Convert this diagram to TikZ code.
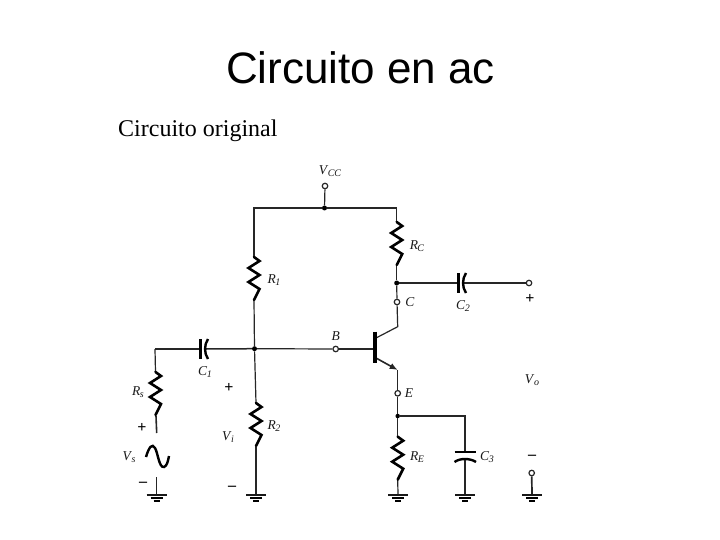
\documentclass[tikz,border=0pt]{standalone}
\usepackage{fontspec}
\setmainfont{Liberation Serif}
\newfontfamily\titlefont{Liberation Sans}
\usetikzlibrary{arrows.meta}
\newcommand{\lab}[2]{\textit{#1}\kern-0.5pt\raisebox{-2.5pt}{\fontsize{10}{10}\selectfont\textit{#2}}}
\tikzset{
  wire/.style={line width=1.2pt,black!85},
  term/.style={circle,draw=black!85,fill=white,line width=1.2pt,inner sep=0pt,minimum size=5.5pt},
  dotj/.style={circle,fill=black,inner sep=0pt,minimum size=5pt},
  lbl/.style={inner sep=0pt,font=\fontsize{13.5}{14}\selectfont,black!90},
  sign/.style={inner sep=0pt,font=\bfseries\fontsize{16}{16}\selectfont,black},
  resis/.pic={\draw[line width=2.6pt,black,line join=miter,line cap=round] (0,0) -- (5.5,4) -- (-5.5,11) -- (5.5,18) -- (-5.5,25) -- (5.5,32) -- (0,43);},
  gnd/.pic={
    \draw[line width=2pt,black!90] (-10,0) -- (10,0);
    \draw[line width=2.4pt,black] (-6,3) -- (6,3);
    \draw[line width=2.4pt,black] (-3,6) -- (3,6);
  },
}
\begin{document}
\begin{tikzpicture}[x=1pt,y=-1pt]
\useasboundingbox (0,0) rectangle (720,540);
\node[font=\titlefont\fontsize{44}{48}\selectfont] (title) at (360.5,68) {Circuito en ac};
\node[anchor=west,font=\fontsize{24}{26}\selectfont,inner sep=0pt] (sub) at (118,131) {Circuito original};

% named points
\node[term] (vcc) at (325,186) {};
\node[dotj] (jt) at (324.5,208) {};
\coordinate (tl) at (254,208);
\coordinate (tr) at (396.7,208);
\coordinate (r1t) at (254,257);
\coordinate (r1b) at (254,300);
\node[dotj] (jb) at (254.5,348.7) {};
\node[term] (bt) at (335.7,349) {};
\coordinate (bar) at (375,349);
\coordinate (cbl) at (155,349);
\coordinate (c1l) at (201,349);
\coordinate (c1r) at (206,349);
\coordinate (rst) at (155.5,372);
\coordinate (rsb) at (156,416);
\coordinate (srct) at (156.7,433);
\coordinate (srcb) at (156.7,477);
\coordinate (gs) at (156.7,495);
\coordinate (r2t) at (256,403);
\coordinate (r2b) at (256,447);
\coordinate (g2) at (256,495);
\coordinate (rct) at (396.7,222);
\coordinate (rcb) at (396.7,265);
\node[dotj] (jc) at (396.7,283) {};
\node[term] (ct) at (397,302) {};
\coordinate (cbend) at (397.7,326.7);
\coordinate (cin) at (376,338);
\coordinate (ein) at (376,358);
\coordinate (eout) at (397.7,370);
\node[term] (et) at (397.7,393.3) {};
\node[dotj,minimum size=4.5pt] (je) at (397.7,416) {};
\coordinate (c3c) at (465,416);
\coordinate (c3t) at (465,452);
\coordinate (c3b) at (465,459);
\coordinate (g3) at (465,495);
\coordinate (ret) at (397.7,436.7);
\coordinate (reb) at (397.7,479);
\coordinate (ge) at (398,495);
\coordinate (c2l) at (458,283);
\coordinate (c2r) at (464,283);
\node[term] (ot) at (529,283) {};
\node[term] (ob) at (531.7,473) {};
\coordinate (go) at (532,495);

% wires
\draw[wire] (vcc) -- (jt);
\draw[wire] (r1t) -- (tl) -- (jt) -- (tr) -- (rct);
\draw[wire] (r1b) -- (jb);
\draw[wire] (jb) -- (bt);
\draw[wire,line width=1.6pt] (bt) -- (bar);
\draw[wire] (cbl) -- (c1l);
\draw[wire,line width=1.5pt] (c1r) -- (jb);
\draw[wire] (cbl) -- (rst);
\draw[wire,line width=1.6pt] (rsb) -- (srct);
\draw[wire] (srcb) -- (gs);
\draw[wire] (jb) -- (r2t);
\draw[wire] (r2b) -- (g2);
\draw[wire] (rcb) -- (jc);
\draw[wire] (jc) -- (ct);
\draw[wire,line width=1.5pt] (jc) -- (c2l);
\draw[wire,line width=1.5pt] (c2r) -- (ot);
\draw[wire] (ct) -- (cbend) -- (cin);
\draw[wire,line width=1.6pt,-{Latex[length=8pt,width=6.5pt]}] (ein) -- (eout);
\draw[wire] (eout) -- (et);
\draw[wire] (et) -- (je);
\draw[wire] (je) -- (c3c) -- (c3t);
\draw[wire] (c3b) -- (g3);
\draw[wire] (je) -- (ret);
\draw[wire] (reb) -- (ge);
\draw[wire,line width=1.7pt] (ob) -- (go);

% transistor bar
\draw[line width=3.4pt,black] (375,331.7) -- (375,363);

% resistors
\pic at (r1t) {resis};
\pic at (rct) {resis};
\pic at (rst) {resis};
\pic at (r2t) {resis};
\pic at (ret) {resis};

% capacitors
\draw[line width=3pt,black] (200.5,339) -- (200.5,359);
\draw[line width=2.4pt,black] (208,339) .. controls (204,345) and (204,353) .. (208,359);
\draw[line width=3pt,black] (458,273) -- (458,293);
\draw[line width=2.4pt,black] (466,273) .. controls (462,279) and (462,287) .. (466,293);
\draw[line width=2.6pt,black] (454.5,452) -- (476,452);
\draw[line width=2.4pt,black] (454.5,462) .. controls (460,458) and (470,458) .. (476,462);

% source
\draw[line width=2.4pt,black] (146,457) .. controls (149,447) and (152,443) .. (155,448) .. controls (158,453) and (159,468) .. (164,467) .. controls (167,466) and (168,461) .. (169,456);

% grounds
\pic at (gs) {gnd};
\pic at (g2) {gnd};
\pic at (ge) {gnd};
\pic at (g3) {gnd};
\pic at (go) {gnd};

% labels
\node[lbl] (lvcc) at (330,171) {\lab{V}{CC}};
\node[lbl] (lr1) at (274,280) {\lab{R}{1}};
\node[lbl] (lb) at (335.7,336) {\textit{B}};
\node[lbl] (lrc) at (417,246) {\lab{R}{C}};
\node[lbl] (lc) at (410,302) {\textit{C}};
\node[lbl] (lc2) at (463,306) {\lab{C}{2}};
\node[sign] (p2) at (530,299) {+};
\node[lbl] (lvo) at (532,380) {\lab{V}{o}};
\node[lbl] (lc1) at (205,372) {\lab{C}{1}};
\node[sign] (p1) at (229,388) {+};
\node[lbl] (lrs) at (138,392) {\lab{R}{s}};
\node[sign] (ps) at (142,428) {+};
\node[lbl] (lvs) at (129,457) {\lab{V}{s}};
\node[sign] (ms) at (143,484) {\textendash};
\node[lbl] (lvi) at (228,437) {\lab{V}{i}};
\node[lbl] (lr2) at (274,426) {\lab{R}{2}};
\node[sign] (mi) at (232,488) {\textendash};
\node[lbl] (le) at (409,393) {\textit{E}};
\node[lbl] (lre) at (417,457) {\lab{R}{E}};
\node[lbl] (lc3) at (487,457) {\lab{C}{3}};
\node[sign] (mo) at (532,457.5) {\textendash};
\end{tikzpicture}
\end{document}
